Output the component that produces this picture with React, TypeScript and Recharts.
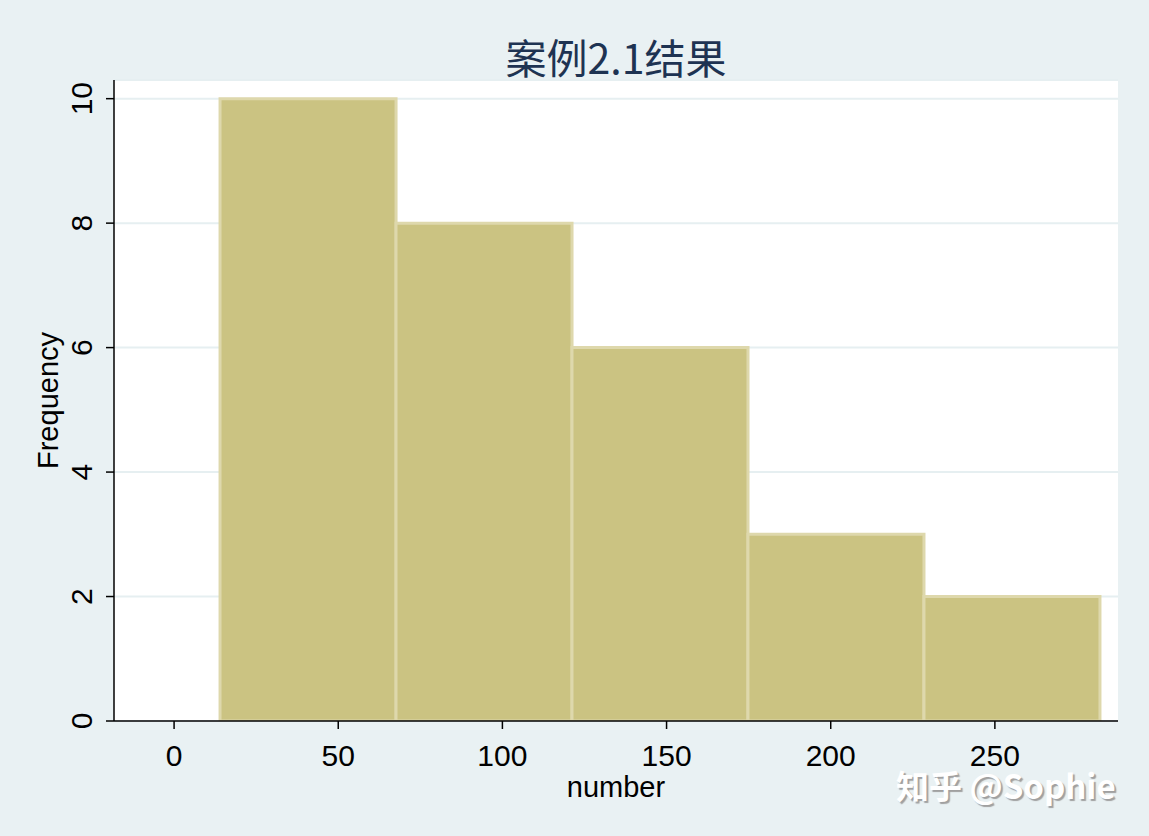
import React from "react";
import {
  ComposedChart,
  Bar,
  XAxis,
  YAxis,
  CartesianGrid,
  Label,
} from "recharts";

const binEdges = [14, 67.6, 121.2, 174.8, 228.4, 282];
const counts = [10, 8, 6, 3, 2];
const xTicks = [0, 50, 100, 150, 200, 250];
const yTicks = [0, 2, 4, 6, 8, 10];
const xDomain = [-18.3, 287.5];
const yDomain = [0, 10.3];
const title = "案例2.1结果";
const xTitle = "number";
const yTitle = "Frequency";
const watermark = "知乎 @Sophie";

const data = counts.map((c, i) => ({
  mid: (binEdges[i] + binEdges[i + 1]) / 2,
  count: c,
}));

const FONT = "'Liberation Sans', Arial, sans-serif";

const YTick = (props: any) => {
  const { x, y, payload } = props;
  return (
    <text
      x={x}
      y={y}
      transform={`rotate(-90, ${x}, ${y})`}
      textAnchor="middle"
      fontSize={30}
      fontFamily={FONT}
      fill="#000"
    >
      {payload.value}
    </text>
  );
};

const XTick = (props: any) => {
  const { x, y, payload } = props;
  return (
    <text
      x={x}
      y={y}
      dy={35}
      textAnchor="middle"
      fontSize={30}
      fontFamily={FONT}
      fill="#000"
    >
      {payload.value}
    </text>
  );
};

export default function App() {
  return (
    <div
      style={{
        position: "absolute",
        left: 0,
        top: 0,
        width: 1149,
        height: 836,
        background: "#E9F1F3",
        overflow: "hidden",
      }}
    >
      <div
        style={{
          position: "absolute",
          left: 0,
          width: 1232,
          top: 30,
          textAlign: "center",
          fontFamily: "'Noto Sans CJK SC', sans-serif",
          fontSize: 41,
          color: "#1E3352",
          lineHeight: "52px",
        }}
      >
        {title}
      </div>
      <ComposedChart
        width={1149}
        height={836}
        data={data}
        margin={{ top: 80, right: 31, bottom: 55, left: 54 }}
        barCategoryGap={0}
        barGap={0}
        style={{ position: "absolute", left: 0, top: 0 }}
      >
        <CartesianGrid
          vertical={false}
          horizontal={true}
          fill="#FFFFFF"
          stroke="#E6EFF1"
          strokeWidth={2}
        />
        <XAxis
          dataKey="mid"
          type="number"
          domain={xDomain}
          ticks={xTicks}
          allowDataOverflow
          height={60}
          tickSize={8}
          tickLine={{ stroke: "#000", strokeWidth: 1.5 }}
          axisLine={{ stroke: "#000", strokeWidth: 1.5 }}
          tick={<XTick />}
          interval={0}
        >
          <Label
            value={xTitle}
            position="insideBottom"
            offset={0}
            dy={16}
            style={{ fontSize: 29, fontFamily: FONT, fill: "#000" }}
          />
        </XAxis>
        <YAxis
          type="number"
          domain={yDomain}
          ticks={yTicks}
          allowDataOverflow
          width={60}
          tickSize={8}
          tickMargin={14}
          tickLine={{ stroke: "#000", strokeWidth: 1.5 }}
          axisLine={{ stroke: "#000", strokeWidth: 1.5 }}
          tick={<YTick />}
          interval={0}
        >
          <Label
            value={yTitle}
            angle={-90}
            position="insideLeft"
            offset={0}
            dx={-6}
            style={{
              fontSize: 29,
              fontFamily: FONT,
              fill: "#000",
              textAnchor: "middle",
            }}
          />
        </YAxis>
        <Bar
          dataKey="count"
          fill="#CBC382"
          stroke="#DED8AC"
          strokeWidth={3}
          isAnimationActive={false}
        />
      </ComposedChart>
      <div
        style={{
          position: "absolute",
          left: 896,
          top: 765,
          fontFamily: "'Noto Sans CJK SC', sans-serif",
          fontSize: 33,
          fontWeight: 700,
          lineHeight: "40px",
          color: "#FFFFFF",
          textShadow: "2px 2px 1px #A0A0A0",
          whiteSpace: "nowrap",
        }}
      >
        {watermark}
      </div>
    </div>
  );
}
